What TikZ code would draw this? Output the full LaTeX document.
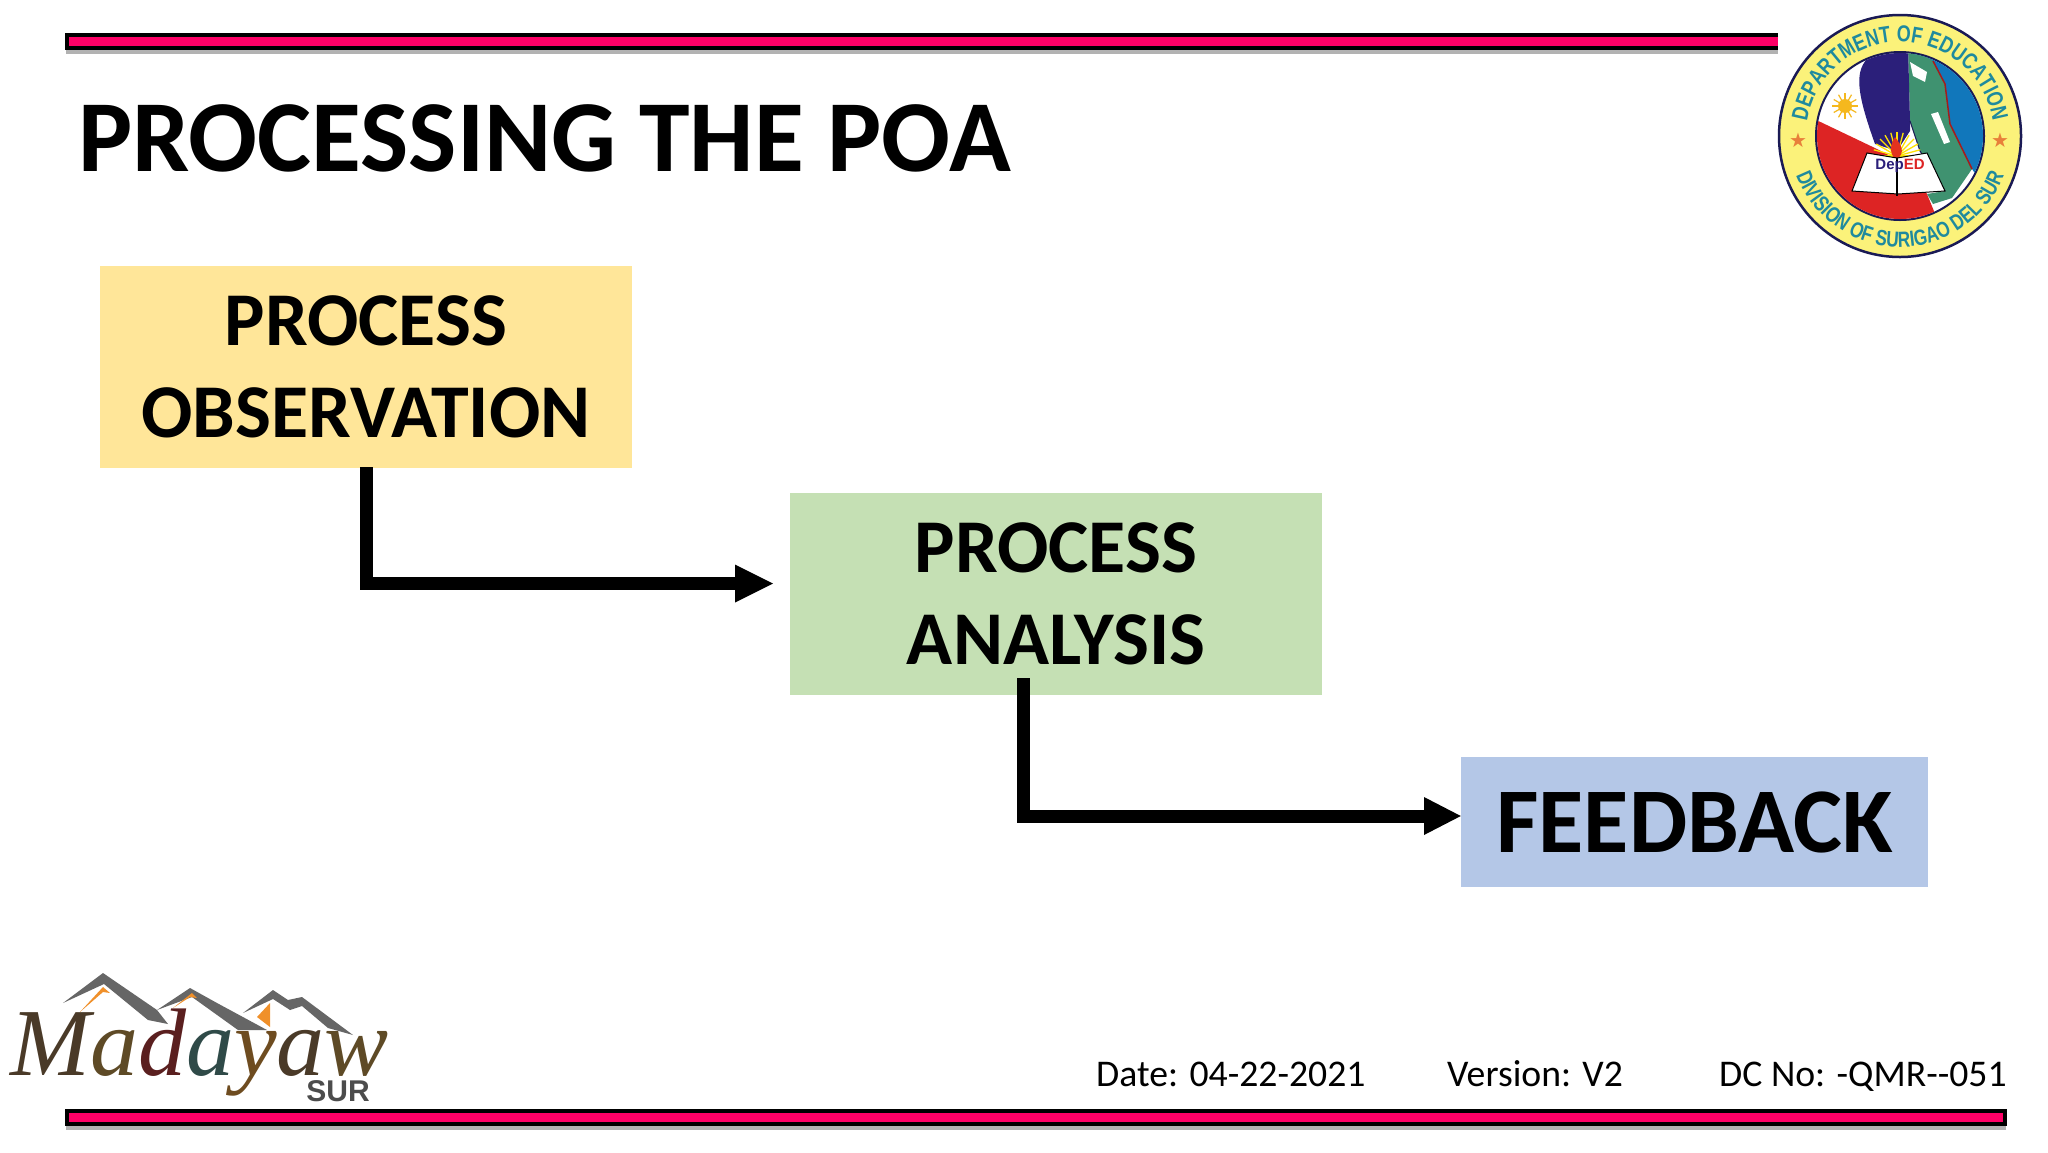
\documentclass[tikz,border=0pt]{standalone}
\usepackage{fontspec}
\setmainfont{Carlito}
\newfontfamily\logofont{Liberation Sans}
\newfontfamily\ringfont[FakeStretch=0.78]{Liberation Sans}
\newfontfamily\madfont{Liberation Serif}
\newfontfamily\symfont{DejaVu Sans}
\usetikzlibrary{decorations.text,calc}
\definecolor{barpink}{HTML}{FF0066}
\definecolor{boxyellow}{HTML}{FFE699}
\definecolor{boxgreen}{HTML}{C5E0B4}
\definecolor{boxblue}{HTML}{B4C7E7}
\definecolor{sealyellow}{HTML}{FBF27A}
\definecolor{sealteal}{HTML}{1F8A9E}
\definecolor{sealnavy}{HTML}{2B1F7A}
\definecolor{sealred}{HTML}{DD2424}
\definecolor{sealblue}{HTML}{1177BB}
\definecolor{sealgreen}{HTML}{3F9270}
\definecolor{sealstar}{HTML}{E8803A}
\definecolor{sealsun}{HTML}{F5B81E}
\definecolor{sealink}{HTML}{1A1A55}
\definecolor{mtn}{HTML}{666666}
\definecolor{mtnorange}{HTML}{F0902A}
\definecolor{madA}{HTML}{4A3A28}
\definecolor{madB}{HTML}{5E4A26}
\definecolor{madC}{HTML}{5A1F1F}
\definecolor{madD}{HTML}{2F4A48}
\definecolor{madE}{HTML}{6E4C20}
\tikzset{
  barrule/.style={draw=black,line width=3.5pt,fill=barpink},
  barshadow/.style={fill=black!30,draw=none},
  flowbox/.style={draw=none,minimum width=532,minimum height=202,inner sep=0pt,align=center,font=\fontsize{76}{92}\selectfont\bfseries},
  flowline/.style={draw=black,line width=13pt,line join=miter},
  flowhead/.style={fill=black,draw=none},
  foottext/.style={anchor=base west,inner sep=0pt,font=\fontsize{37.7}{40}\selectfont},
}
\begin{document}
\begin{tikzpicture}[x=1pt,y=-1pt]
\useasboundingbox (0,0) rectangle (2048,1152);
\fill[white] (0,0) rectangle (2048,1152);
% bars
\fill[barshadow] (66,46) rectangle (1778,54);
\fill[barpink] (67,35) rectangle (1778,48);
\draw[draw=black,line width=3.5pt] (1778,35) -- (67,35) -- (67,48) -- (1778,48);
\fill[barshadow] (66,1122) rectangle (2006,1130);
\draw[barrule] (67,1111) rectangle (2005,1124);
% title
\node[anchor=west,inner sep=0pt,font=\fontsize{102}{110}\selectfont\bfseries] (title) at (78,138) {PROCESSING THE POA};
% boxes
\node[flowbox,fill=boxyellow] (obs) at (366,367) {PROCESS\\OBSERVATION};
\node[flowbox,fill=boxgreen] (ana) at (1056,594) {PROCESS\\ANALYSIS};
\node[flowbox,fill=boxblue,minimum width=467,minimum height=130,font=\fontsize{92.5}{94}\selectfont\bfseries] (fb) at (1694.5,822) {FEEDBACK};
% connectors
\coordinate (c1a) at (366,467);
\coordinate (c1b) at (366,583.5);
\coordinate (c1c) at (735,583.5);
\coordinate (c1t) at (773,583.5);
\draw[flowline] (c1a) -- (c1b) -- (c1c);
\fill[flowhead] (c1t) -- ($(c1c)+(0,-19)$) -- ($(c1c)+(0,19)$) -- cycle;
\coordinate (c2a) at (1023,678);
\coordinate (c2b) at (1023,816);
\coordinate (c2c) at (1424,816);
\coordinate (c2t) at (fb.west|-c2b);
\draw[flowline] (c2a) -- (c2b) -- (c2c);
\fill[flowhead] (c2t) -- ($(c2c)+(0,-19)$) -- ($(c2c)+(0,19)$) -- cycle;
% footer
\node[foottext] (date) at (1096,1086) {Date: 04-22-2021};
\node[foottext] (ver) at (1447,1086) {Version: V2};
\node[foottext] (dc) at (1719,1086) {DC No: -QMR-{}-051};
% seal
\begin{scope}[shift={(1900,136)}]
\fill[sealyellow,draw=sealink,line width=2.5pt] (0,0) circle (121);
\fill[white,draw=sealink,line width=2pt] (0,0) circle (84);
\begin{scope}
\clip (0,0) circle (83);
\fill[sealred] (-90,-19) -- (-23,13) -- (10,30) -- (27,58) -- (40,90) -- (-90,90) -- cycle;
\fill[sealblue] (8,-90) -- (90,-90) -- (90,60) -- (72,33) -- cycle;
\fill[sealgreen] (8,-90) -- (33,-75) -- (45,-52) -- (50,-12) -- (72,33) -- (52,62) -- (33,68) -- (27,58) -- (45,55) -- (20,15) -- (10,-15) -- cycle;
\fill[sealnavy] (8,-90) -- (-30,-80) .. controls (-46,-66) and (-44,-45) .. (-25,8) -- (-3,15) -- (10,-5) -- (10,-15) -- cycle;
\draw[sealred!75!black,line width=1.5pt] (33,-75) -- (45,-52) -- (50,-12) -- (72,33);
\fill[white] (10,-74) -- (27,-64) -- (25,-54) -- (13,-60) -- cycle;
\fill[white] (31,-22) -- (38,-24) -- (50,6) -- (44,8) -- cycle;
\draw[sealink,line width=1pt] (10,-15) -- (20,15) -- (45,55);
\end{scope}
\fill[sealsun] (-55,-30) circle (7);
\foreach \a in {0,30,...,330} \draw[sealsun,line width=1.2pt] (-55,-30) -- ++(\a:13);
\foreach \a in {0,15,...,180} \draw[yellow!85!orange,line width=1.3pt] (-3,20) -- ++(180+\a:24);
\fill[sealred!85!orange] (-4,24) .. controls (-12,16) and (-9,8) .. (-5,1) .. controls (0,8) and (7,16) .. (-4,24) -- cycle;
\fill[white,draw=black,line width=1pt] (-33,17) -- (-3,22) -- (27,17) -- (45,55) -- (-2,58) -- (-48,55) -- cycle;
\draw[black,line width=1.3pt] (-3,22) -- (-3,60);
\node[inner sep=0pt,font=\logofont\fontsize{15}{16}\selectfont\bfseries,text=sealnavy] (dep) at (0,30) {Dep{\color{sealred}ED}};
\path[decorate,decoration={text along path,text={|\ringfont\fontsize{23}{23}\selectfont\bfseries\color{sealteal}|DEPARTMENT OF EDUCATION},text align=center}] (172:94) arc (172:368:94);
\path[decorate,decoration={text along path,text={|\ringfont\fontsize{22}{22}\selectfont\bfseries\color{sealteal}|DIVISION OF SURIGAO DEL SUR},text align=center}] (170:111) arc (170:10:111);
\node[inner sep=0pt,text=sealstar,font=\symfont\fontsize{20}{20}\selectfont] (s1) at (-102,4) {★};
\node[inner sep=0pt,text=sealstar,font=\symfont\fontsize{20}{20}\selectfont] (s2) at (100,4) {★};
\end{scope}
% Madayaw logo
\fill[mtn] (63,1003) -- (103,973) -- (157,1010) -- (168,1024) -- (148,1020) -- (104,984) -- cycle;
\fill[mtn] (157,1010) -- (190,988) -- (217,1003) -- (267,1030) -- (238,1030) -- (192,997) -- cycle;
\fill[mtn] (243,1013) -- (273,990) -- (288,1000) -- (302,997) -- (353,1035) -- (328,1028) -- (302,1006) -- (290,1010) -- (273,999) -- cycle;
\fill[mtnorange] (80,1012) -- (103,987) -- (110,993) -- (103,992) -- cycle;
\fill[mtnorange] (173,1008) -- (192,993) -- (197,998) -- (190,997) -- cycle;
\fill[mtnorange] (257,1017) -- (270,1003) -- (270,1027) -- cycle;
\node[anchor=base west,inner sep=0pt,font=\madfont\itshape\fontsize{96}{100}\selectfont] (mada) at (10,1075) {{\color{madA}M}{\color{madB}a}{\color{madC}d}{\color{madD}a}{\color{madE}y}{\color{madA}a}{\color{madB}w}};
\node[inner sep=0pt,text=black!70,font=\logofont\fontsize{30}{30}\selectfont\bfseries] (sur) at (338,1091) {SUR};
\end{tikzpicture}
\end{document}
